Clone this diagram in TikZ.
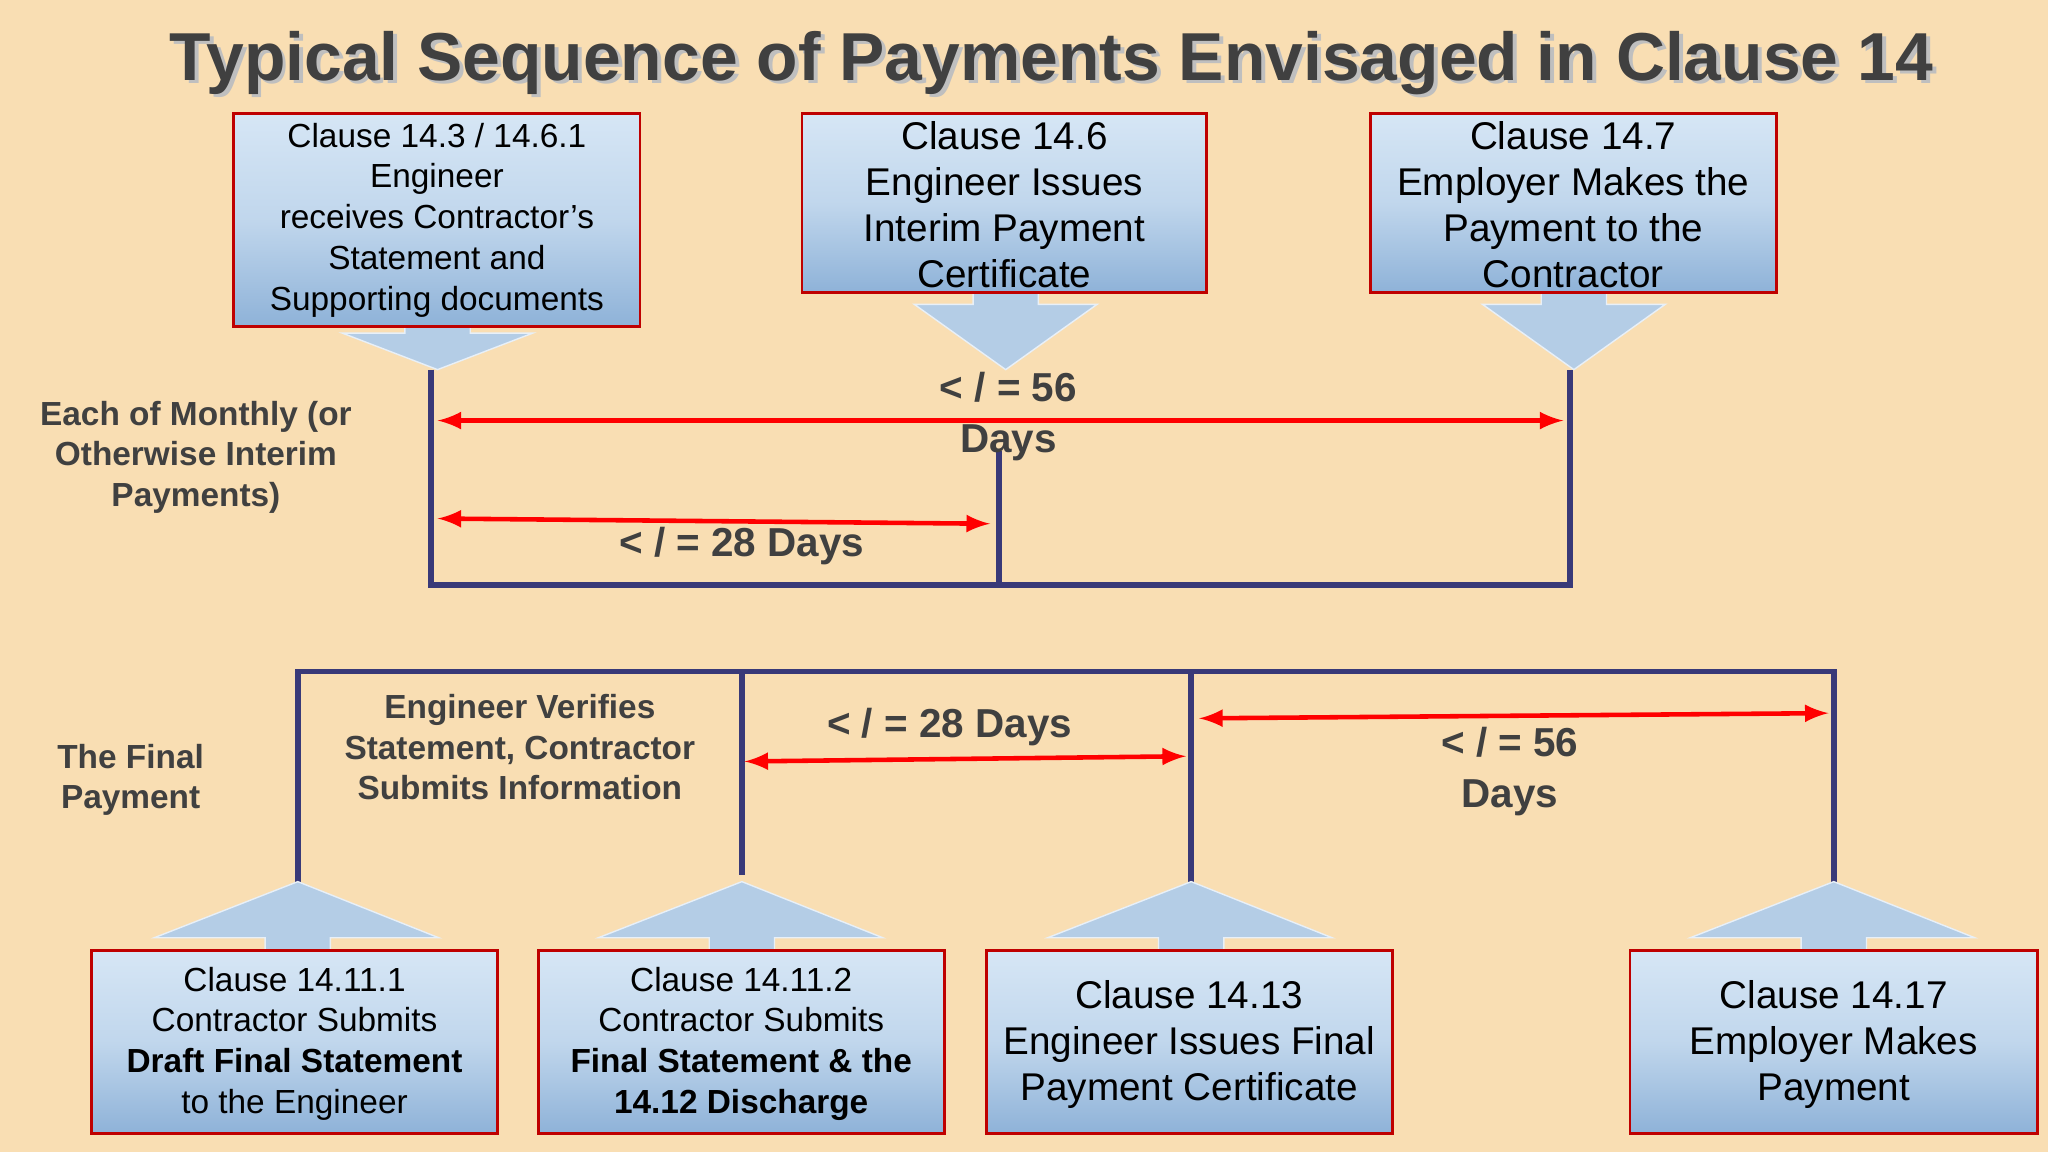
\documentclass[tikz,border=0pt]{standalone}
\usepackage{fontspec}
\setmainfont{Liberation Sans}
\definecolor{bg}{HTML}{F9DEB3}
\definecolor{btop}{HTML}{D6E6F5}
\definecolor{bbot}{HTML}{8EB2D8}
\definecolor{afill}{HTML}{B4CDE6}
\begin{document}
\begin{tikzpicture}[x=0.0130612cm,y=-0.0130612cm,
  box/.style={draw=red!75!black,line width=0.8pt,top color=btop,bottom color=bbot,middle color=btop!70!bbot},
  arr/.style={fill=afill,draw=white!70!afill,line width=0.4pt},
  bar/.style={draw=black!55!blue!55!gray,line width=1.6pt},
  red/.style={draw=red,line width=1.3pt,<->,>=latex},
  lab/.style={font=\bfseries\fontsize{9.5}{11.5}\selectfont,text=black!75,align=center},
  big/.style={font=\bfseries\fontsize{11.5}{14.5}\selectfont,text=black!75,align=center},
  bt/.style={align=center,font=\fontsize{9.5}{11.6}\selectfont},
  bt2/.style={align=center,font=\fontsize{11}{13.1}\selectfont}]
\fill[bg] (0,0) rectangle (1568,882);
\useasboundingbox (0,0) rectangle (1568,882);
\node[font=\bfseries\fontsize{19.3}{23}\selectfont,text=black!25] at (808,51) {Typical Sequence of Payments Envisaged in Clause 14};
\node[font=\bfseries\fontsize{19.3}{23}\selectfont,text=black!75] (title) at (805,48) {Typical Sequence of Payments Envisaged in Clause 14};
% top arrows
\foreach \c/\y/\w in {335/255/73,770/233/70,1205/233/70}{
  \filldraw[arr] (\c-\w,\y) -- (\c-25,\y) -- (\c-25,\y-10) -- (\c+25,\y-10) -- (\c+25,\y) -- (\c+\w,\y) -- (\c,283) -- cycle;}
\draw[box] (179,87) rectangle (490,250);
\node[bt] (b1) at (334.5,168.5) {Clause 14.3 / 14.6.1\\Engineer\\receives Contractor's\\Statement and\\Supporting documents};
\draw[box] (614,87) rectangle (924,224);
\node[bt2] (b2) at (769,157) {Clause 14.6\\Engineer Issues\\Interim Payment\\Certificate};
\draw[box] (1049,87) rectangle (1360,224);
\node[bt2] (b3) at (1204.5,157) {Clause 14.7\\Employer Makes the\\Payment to the\\Contractor};
% top bars
\coordinate (t1) at (330,283); \coordinate (t2) at (330,448);
\coordinate (t3) at (1202,283); \coordinate (t4) at (1202,448);
\coordinate (t5) at (765,345); \coordinate (t6) at (765,448);
\draw[bar] (t1) -- (t2) -- (t4) -- (t3);
\draw[bar] (t5) -- (t6);
\coordinate (r1) at (335,322); \coordinate (r2) at (1197,322);
\coordinate (r3) at (335,397); \coordinate (r4) at (758,401);
\draw[red] (r1) -- (r2);
\draw[red] (r3) -- (r4);
\node[big] (l56) at (772,319) {< / = 56\\Days};
\node[big] (l28) at (568,418) {< / = 28 Days};
\node[lab] (lm) at (150,350) {Each of Monthly (or\\Otherwise Interim\\Payments)};
% bottom
\coordinate (h1) at (228,675); \coordinate (h2) at (228,514);
\coordinate (h3) at (1404,514); \coordinate (h4) at (1404,675);
\draw[bar] (h1) -- (h2) -- (h3) -- (h4);
\coordinate (v1) at (568,514); \coordinate (v2) at (568,670);
\coordinate (v3) at (912,514); \coordinate (v4) at (912,675);
\draw[bar] (v1) -- (v2); \draw[bar] (v3) -- (v4);
\foreach \c in {228,568,912,1404}{
  \filldraw[arr] (\c-110,718) -- (\c-25,718) -- (\c-25,728) -- (\c+25,728) -- (\c+25,718) -- (\c+108,718) -- (\c,675) -- cycle;}
\draw[box] (70,728) rectangle (381,868);
\node[bt] (c1) at (225.5,799) {Clause 14.11.1\\Contractor Submits\\\textbf{Draft Final Statement}\\to the Engineer};
\draw[box] (412,728) rectangle (723,868);
\node[bt] (c2) at (567.5,799) {Clause 14.11.2\\Contractor Submits\\\textbf{Final Statement \& the}\\\textbf{14.12 Discharge}};
\draw[box] (755,728) rectangle (1066,868);
\node[bt2] (c3) at (910.5,800) {Clause 14.13\\Engineer Issues Final\\Payment Certificate};
\draw[box] (1248,728) rectangle (1560,868);
\node[bt2] (c4) at (1404,800) {Clause 14.17\\Employer Makes\\Payment};
\coordinate (s1) at (570,583); \coordinate (s2) at (908,579);
\coordinate (s3) at (918,550); \coordinate (s4) at (1400,546);
\draw[red] (s1) -- (s2);
\draw[red] (s3) -- (s4);
\node[big] (m28) at (727,557) {< / = 28 Days};
\node[big] (m56) at (1156,591) {< / = 56\\Days};
\node[lab] (ev) at (398,572) {Engineer Verifies\\Statement, Contractor\\Submits Information};
\node[lab] (fp) at (100,597) {The Final\\Payment};
\end{tikzpicture}
\end{document}
